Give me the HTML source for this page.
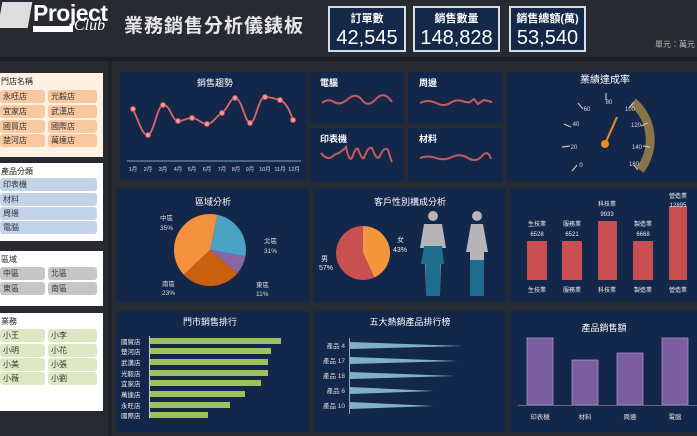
<!DOCTYPE html>
<html><head><meta charset="utf-8"><style>
*{margin:0;padding:0;box-sizing:border-box}
body{width:697px;height:436px;background:#272b31;overflow:hidden;position:relative;font-family:"Liberation Sans","Noto Sans CJK TC",sans-serif;color:#fff}
.a{position:absolute}
.p{position:absolute;background:#13274a}
.kpi{position:absolute;border:2px solid #d8dde4;background:#142848;text-align:center}
.kpi .t{font-size:11px;font-weight:bold;margin-top:2px}
.kpi .v{font-size:20px;margin-top:1px}
.sl{position:absolute;left:0;width:103px}
.sl .h{font-size:8px;color:#222;padding:3px 0 0 1px;height:15px}
.b{position:absolute;height:13px;border-radius:3px;font-size:8px;color:#333;padding:1px 0 0 3px}
</style></head><body>
<div class="a" style="left:0;top:57px;width:697px;height:4px;background:#1c1f24"></div>
<div class="a" style="left:0;top:2px;width:30px;height:26px;background:#ddd;transform:skewX(-10deg)"></div>
<div class="a" style="left:33px;top:0px;font-size:23px;font-weight:bold;color:#fff;letter-spacing:-0.5px">Project</div>
<div class="a" style="left:33px;top:26px;width:40px;height:6px;background:#fff"></div>
<div class="a" style="left:74px;top:17px;font-size:16px;font-style:italic;font-family:'Liberation Serif',serif">Club</div>
<div class="a" style="left:124px;top:11px;font-size:19px;font-weight:bold;color:#e6e6e6;letter-spacing:1px">業務銷售分析儀錶板</div>
<div class="kpi" style="left:328px;top:6px;width:78px;height:46px"><div class="t">訂單數</div><div class="v">42,545</div></div>
<div class="kpi" style="left:413px;top:6px;width:87px;height:46px"><div class="t">銷售數量</div><div class="v">148,828</div></div>
<div class="kpi" style="left:509px;top:6px;width:77px;height:46px"><div class="t">銷售總額(萬)</div><div class="v">53,540</div></div>
<div class="a" style="left:655px;top:39px;font-size:8px;color:#bbb">單元：萬元</div>

<div class="sl" style="top:73px;height:84px;background:#fdf1e4"><div class="h">門店名稱</div>
<div class="b" style="left:0;top:17px;width:45px;background:#f8c9a0">永旺店</div><div class="b" style="left:48px;top:17px;width:49px;background:#f8c9a0">光毅店</div>
<div class="b" style="left:0;top:32px;width:45px;background:#f8c9a0">宜家店</div><div class="b" style="left:48px;top:32px;width:49px;background:#f8c9a0">武漢店</div>
<div class="b" style="left:0;top:47px;width:45px;background:#f8c9a0">國貿店</div><div class="b" style="left:48px;top:47px;width:49px;background:#f8c9a0">國際店</div>
<div class="b" style="left:0;top:61px;width:45px;background:#f8c9a0">楚河店</div><div class="b" style="left:48px;top:61px;width:49px;background:#f8c9a0">萬達店</div></div>
<div class="sl" style="top:163px;height:78px;background:#fff"><div class="h">產品分類</div>
<div class="b" style="left:0;top:15px;width:97px;background:#c3d3ea">印表機</div>
<div class="b" style="left:0;top:30px;width:97px;background:#c3d3ea">材料</div>
<div class="b" style="left:0;top:44px;width:97px;background:#c3d3ea">周邊</div>
<div class="b" style="left:0;top:58px;width:97px;background:#c3d3ea">電腦</div></div>
<div class="sl" style="top:251px;height:55px;background:#fff"><div class="h">區域</div>
<div class="b" style="left:0;top:16px;width:45px;background:#c6c6c6">中區</div><div class="b" style="left:48px;top:16px;width:49px;background:#c6c6c6">北區</div>
<div class="b" style="left:0;top:31px;width:45px;background:#c6c6c6">東區</div><div class="b" style="left:48px;top:31px;width:49px;background:#c6c6c6">南區</div></div>
<div class="sl" style="top:313px;height:98px;background:#fff"><div class="h">業務</div>
<div class="b" style="left:0;top:16px;width:45px;background:#dde7c2">小王</div><div class="b" style="left:48px;top:16px;width:49px;background:#dde7c2">小李</div>
<div class="b" style="left:0;top:31px;width:45px;background:#dde7c2">小明</div><div class="b" style="left:48px;top:31px;width:49px;background:#dde7c2">小花</div>
<div class="b" style="left:0;top:45px;width:45px;background:#dde7c2">小美</div><div class="b" style="left:48px;top:45px;width:49px;background:#dde7c2">小張</div>
<div class="b" style="left:0;top:59px;width:45px;background:#dde7c2">小薇</div><div class="b" style="left:48px;top:59px;width:49px;background:#dde7c2">小劉</div></div>
<div class="a" style="left:108px;top:61px;width:4px;height:375px;background:#1f2227"></div>

<div class="p" style="left:120px;top:72px;width:187px;height:108px"></div>
<div class="p" style="left:310px;top:72px;width:94px;height:52px"></div>
<div class="p" style="left:408px;top:72px;width:95px;height:52px"></div>
<div class="p" style="left:310px;top:128px;width:94px;height:54px"></div>
<div class="p" style="left:408px;top:128px;width:95px;height:54px"></div>
<div class="p" style="left:507px;top:72px;width:190px;height:110px"></div>
<div class="p" style="left:116px;top:188px;width:193px;height:114px"></div>
<div class="p" style="left:313px;top:188px;width:193px;height:114px"></div>
<div class="p" style="left:510px;top:188px;width:187px;height:114px"></div>
<div class="p" style="left:116px;top:311px;width:193px;height:121px"></div>
<div class="p" style="left:313px;top:311px;width:193px;height:121px"></div>
<div class="p" style="left:510px;top:311px;width:187px;height:121px"></div>

<svg class="a" style="left:0;top:0" width="697" height="436" font-family="Liberation Sans,Noto Sans CJK TC,sans-serif" fill="#fff">
<text x="215" y="86" font-size="9" text-anchor="middle">銷售趨勢</text>
<path d="M133,109 C140,125 143,136 148,135 C154,133 157,106 163,105 C170,104 172,121 178,121 C184,121 186,118 192,118 C198,118 201,124 207,124 C213,124 216,116 222,113 C228,109 230,98 235,98 C242,98 245,123 250,123 C256,123 258,97 265,97 C271,97 275,99 280,100 C287,103 290,112 293,120" fill="none" stroke="#d9686a" stroke-width="1.8"/>
<g fill="#e8a0a8" stroke="#c04e58" stroke-width="1"><circle cx="133" cy="109" r="2.5"/><circle cx="148" cy="135" r="2.5"/><circle cx="163" cy="105" r="2.5"/><circle cx="178" cy="121" r="2.5"/><circle cx="192" cy="118" r="2.5"/><circle cx="207" cy="124" r="2.5"/><circle cx="222" cy="113" r="2.5"/><circle cx="235" cy="98" r="2.5"/><circle cx="250" cy="123" r="2.5"/><circle cx="265" cy="97" r="2.5"/><circle cx="280" cy="100" r="2.5"/><circle cx="293" cy="120" r="2.5"/></g>
<line x1="127" y1="161" x2="301" y2="161" stroke="#8aa0c0"/>
<g font-size="5.5" text-anchor="middle" fill="#ddd"><text x="133" y="171">1月</text><text x="148" y="171">2月</text><text x="163" y="171">3月</text><text x="178" y="171">4月</text><text x="192" y="171">5月</text><text x="207" y="171">6月</text><text x="222" y="171">7月</text><text x="236" y="171">8月</text><text x="250" y="171">9月</text><text x="265" y="171">10月</text><text x="280" y="171">11月</text><text x="294" y="171">12月</text></g>
<g font-size="9" font-weight="bold"><text x="320" y="86">電腦</text><text x="419" y="86">周邊</text><text x="320" y="142">印表機</text><text x="419" y="142">材料</text></g>
<g fill="none" stroke="#c95a5c" stroke-width="2">
<path d="M322,103 Q328,98 334,102 T348,99 T362,100 T376,99 T392,102"/>
<path d="M420,103 Q428,99 436,103 T450,103 T462,101 T470,102 L474,99 L478,104 L484,100 L492,102"/>
<path d="M321,153 Q328,162 334,155 Q342,152 346,147 Q349,162 352,158 Q356,146 358,149 Q362,160 364,158 Q368,146 372,148 Q377,162 380,156 Q384,146 388,150 Q391,160 392,162"/>
<path d="M420,158 Q428,155 436,158 T452,157 T468,158 T482,156 T491,159"/></g>
<text x="605" y="83" font-size="10" text-anchor="middle">業績達成率</text>
<path d="M633,102 A50,50 0 0 1 640,170" fill="none" stroke="#8a7448" stroke-width="9"/>
<g stroke="#c8c8b0" stroke-width="1.2">
<line x1="572" y1="171" x2="577" y2="165"/><line x1="562" y1="147" x2="570" y2="146"/><line x1="564" y1="124" x2="571" y2="127"/><line x1="578" y1="103" x2="583" y2="109"/><line x1="606" y1="93" x2="606" y2="100"/><line x1="634" y1="102" x2="629" y2="108"/><line x1="648" y1="123" x2="641" y2="126"/><line x1="650" y1="147" x2="643" y2="146"/><line x1="638" y1="170" x2="634" y2="165"/></g>
<g font-size="6" fill="#ddd" text-anchor="middle"><text x="581" y="167">0</text><text x="574" y="149">20</text><text x="576" y="126">40</text><text x="587" y="111">60</text><text x="609" y="104">80</text><text x="630" y="111">100</text><text x="636" y="127">120</text><text x="637" y="149">140</text><text x="634" y="166">160</text></g>
<line x1="605" y1="144" x2="617" y2="117" stroke="#f08c1c" stroke-width="2"/>
<circle cx="605" cy="144" r="4" fill="#f08c1c"/>
<text x="213" y="205" font-size="9" text-anchor="middle">區域分析</text>
<g transform="translate(210,250)">
<path d="M0,0 L7.5,-35.2 A36,36 0 0 1 35.4,6.3 Z" fill="#4aa3c4"/>
<path d="M0,0 L35.4,6.3 A36,36 0 0 1 27.6,23.1 Z" fill="#8a66a8"/>
<path d="M0,0 L27.6,23.1 A36,36 0 0 1 -26.3,24.6 Z" fill="#c8600e"/>
<path d="M0,0 L-26.3,24.6 A36,36 0 0 1 7.5,-35.2 Z" fill="#f4913c"/></g>
<g font-size="6.5" fill="#ddd"><text x="160" y="220">中區</text><text x="160" y="230">35%</text><text x="264" y="243">北區</text><text x="264" y="253">31%</text><text x="256" y="287">東區</text><text x="256" y="296">11%</text><text x="162" y="286">南區</text><text x="162" y="295">23%</text></g>
<text x="410" y="205" font-size="9" text-anchor="middle">客戶性別構成分析</text>
<g transform="translate(363,253)"><path d="M0,0 L0,-27 A27,27 0 0 1 11.4,24.5 Z" fill="#f4963c"/><path d="M0,0 L11.4,24.5 A27,27 0 1 1 0,-27 Z" fill="#c94f50"/></g>
<g font-size="7" fill="#eee"><text x="321" y="261">男</text><text x="319" y="270">57%</text><text x="397" y="242">女</text><text x="393" y="252">43%</text></g>
<g fill="#b5b5b8"><circle cx="433" cy="216" r="5"/><path d="M424,224 L442,224 L446,248 L441,248 L440,294 L426,294 L425,248 L420,248 Z"/>
<circle cx="477" cy="216" r="5"/><path d="M471,224 L483,224 L488,252 L484,252 L484,295 L470,295 L470,252 L466,252 Z"/></g>
<g fill="#1e6d8c"><path d="M424,246 L442,246 L444,264 L440,264 L440,296 L426,296 L426,264 L421,264 Z"/><path d="M470,260 L484,260 L484,296 L470,296 Z"/></g>
<g fill="#c94f50"><rect x="527" y="241" width="20" height="39"/><rect x="562" y="241" width="20" height="39"/><rect x="598" y="221" width="19" height="59"/><rect x="633" y="241" width="20" height="39"/><rect x="669" y="206" width="18" height="74"/></g>
<g font-size="6" text-anchor="middle" fill="#eee"><text x="537" y="226">生技業</text><text x="537" y="236">6528</text><text x="572" y="226">服務業</text><text x="572" y="236">6521</text><text x="607" y="206">科技業</text><text x="607" y="216">9933</text><text x="643" y="226">製造業</text><text x="643" y="236">6668</text><text x="678" y="198">營造業</text><text x="678" y="207">12895</text>
<text x="537" y="292">生技業</text><text x="572" y="292">服務業</text><text x="607" y="292">科技業</text><text x="643" y="292">製造業</text><text x="678" y="292">營造業</text></g>
<text x="210" y="325" font-size="9" text-anchor="middle">門市銷售排行</text>
<line x1="149.5" y1="336" x2="149.5" y2="418" stroke="#ccc"/>
<g fill="#9ec15c"><rect x="150" y="338" width="131" height="6"/><rect x="150" y="348" width="121" height="6"/><rect x="150" y="359" width="118" height="6"/><rect x="150" y="370" width="118" height="6"/><rect x="150" y="380" width="111" height="6"/><rect x="150" y="391" width="95" height="6"/><rect x="150" y="402" width="80" height="6"/><rect x="150" y="412" width="58" height="6"/></g>
<g font-size="6.5" fill="#eee"><text x="121" y="344">國貿店</text><text x="121" y="354">楚河店</text><text x="121" y="365">武漢店</text><text x="121" y="376">光毅店</text><text x="121" y="386">宜家店</text><text x="121" y="397">萬達店</text><text x="121" y="408">永旺店</text><text x="121" y="418">國際店</text></g>
<text x="410" y="325" font-size="9" text-anchor="middle">五大熱銷產品排行榜</text>
<line x1="349.5" y1="338" x2="349.5" y2="414" stroke="#8aa"/>
<g fill="#7fb0c8"><path d="M350,342 L463,346 L350,349Z"/><path d="M350,357 L458,361 L350,364Z"/><path d="M350,372 L455,376 L350,379Z"/><path d="M350,387 L434,391 L350,394Z"/><path d="M350,402 L434,406 L350,409Z"/></g>
<g font-size="6.5" fill="#ddd" text-anchor="end"><text x="345" y="348">產品 4</text><text x="345" y="363">產品 17</text><text x="345" y="378">產品 18</text><text x="345" y="393">產品 6</text><text x="345" y="408">產品 10</text></g>
<text x="604" y="331" font-size="9" text-anchor="middle">產品銷售額</text>
<g fill="#7b5ea0" stroke="#a890c8" stroke-width="0.8"><rect x="527" y="338" width="26" height="67"/><rect x="572" y="360" width="26" height="45"/><rect x="617" y="353" width="26" height="52"/><rect x="662" y="338" width="26" height="67"/></g>
<line x1="518" y1="405.5" x2="697" y2="405.5" stroke="#667"/>
<g font-size="6.5" fill="#ddd" text-anchor="middle"><text x="540" y="419">印表機</text><text x="585" y="419">材料</text><text x="630" y="419">周邊</text><text x="675" y="419">電腦</text></g>
</svg>
</body></html>
